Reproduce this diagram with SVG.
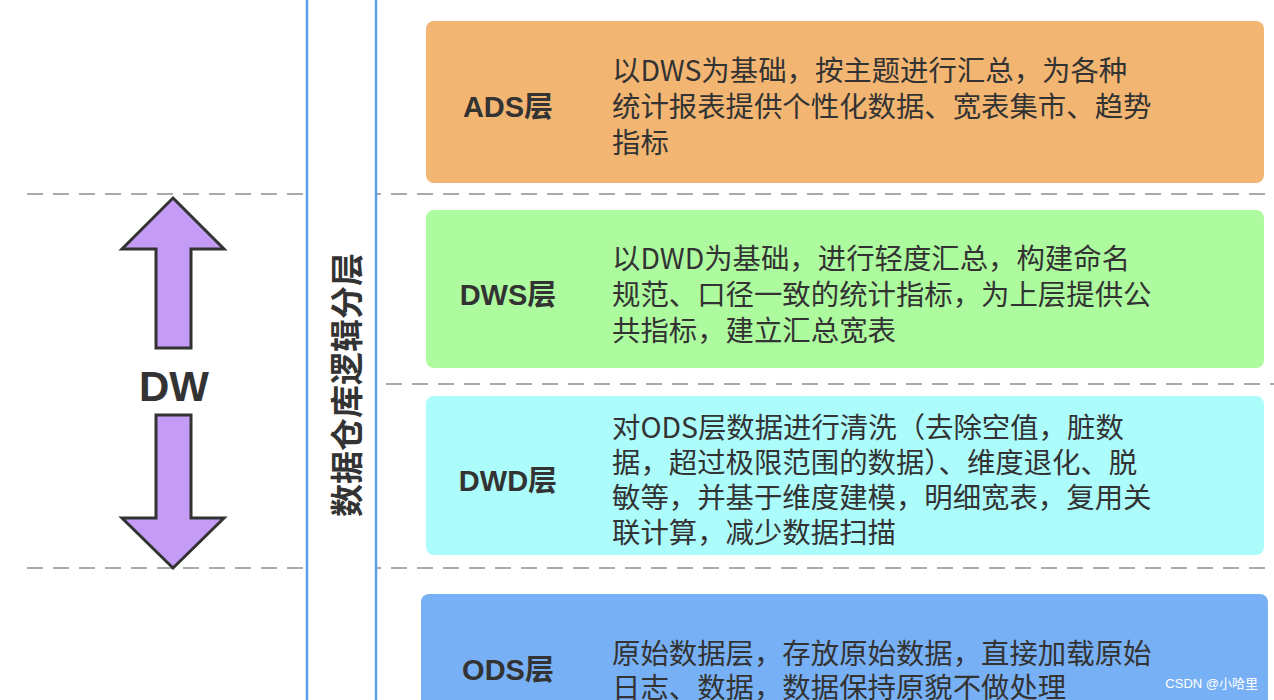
<svg xmlns="http://www.w3.org/2000/svg" width="1274" height="700" viewBox="0 0 1274 700">
<style>
.dash{stroke:#aaa;stroke-width:2;stroke-dasharray:16,10;fill:none}
.lbl{font-family:"Liberation Sans","Noto Sans CJK SC",sans-serif;font-weight:bold;font-size:29px;fill:#333;text-anchor:middle}
.t{font-family:"Noto Sans CJK SC",sans-serif;font-size:28.4px;fill:#333}
.arr{fill:#c59cf5;stroke:#333;stroke-width:3;stroke-linejoin:miter}
</style>
<rect width="1274" height="700" fill="#fff"/>
<g id="guides">
<line class="dash" x1="27" y1="194" x2="1274" y2="194"/>
<line class="dash" x1="27" y1="568" x2="1274" y2="568"/>
<line class="dash" x1="386" y1="384" x2="1274" y2="384"/>
</g>
<g id="bar">
<rect x="307" y="-10" width="69" height="720" rx="6" fill="#fff" stroke="#5b9bf0" stroke-width="2.5"/>
<text transform="translate(359,385) rotate(-90)" text-anchor="middle" style="font-family:'Noto Sans CJK SC',sans-serif;font-weight:bold;font-size:33px;fill:#333">数据仓库逻辑分层</text>
</g>
<g id="dw">
<polygon class="arr" points="173,198 224,249 191,249 191,348 156,348 156,249 122,249"/>
<polygon class="arr" points="173,568 224,518 191,518 191,415 156,415 156,518 122,518"/>
<text class="lbl" x="174" y="401" style="font-size:42px">DW</text>
</g>
<g id="ads">
<rect x="426" y="21" width="838" height="162" rx="8" fill="#f2b672"/>
<text class="lbl" x="508" y="117">ADS层</text>
<text class="t"><tspan x="612" y="81">以DWS为基础，按主题进行汇总，为各种</tspan><tspan x="612" y="117">统计报表提供个性化数据、宽表集市、趋势</tspan><tspan x="612" y="153">指标</tspan></text>
</g>
<g id="dws">
<rect x="426" y="210" width="838" height="158" rx="8" fill="#aefa9f"/>
<text class="lbl" x="508" y="305">DWS层</text>
<text class="t"><tspan x="612" y="269">以DWD为基础，进行轻度汇总，构建命名</tspan><tspan x="612" y="305">规范、口径一致的统计指标，为上层提供公</tspan><tspan x="612" y="341">共指标，建立汇总宽表</tspan></text>
</g>
<g id="dwd">
<rect x="426" y="396" width="838" height="159" rx="8" fill="#adfcfc"/>
<text class="lbl" x="508" y="491">DWD层</text>
<text class="t"><tspan x="612" y="438">对ODS层数据进行清洗（去除空值，脏数</tspan><tspan x="612" y="473">据，超过极限范围的数据）、维度退化、脱</tspan><tspan x="612" y="508">敏等，并基于维度建模，明细宽表，复用关</tspan><tspan x="612" y="543">联计算，减少数据扫描</tspan></text>
</g>
<g id="ods">
<rect x="421" y="594" width="847" height="130" rx="8" fill="#78b0f5"/>
<text class="lbl" x="508" y="680">ODS层</text>
<text class="t"><tspan x="612" y="664">原始数据层，存放原始数据，直接加载原始</tspan><tspan x="612" y="698">日志、数据，数据保持原貌不做处理</tspan></text>
<text x="1258" y="688" text-anchor="end" style="font-family:'Liberation Sans','Noto Sans CJK SC',sans-serif;font-size:13px;fill:#fff">CSDN @小哈里</text>
</g>
<g id="connectors"></g>
</svg>
